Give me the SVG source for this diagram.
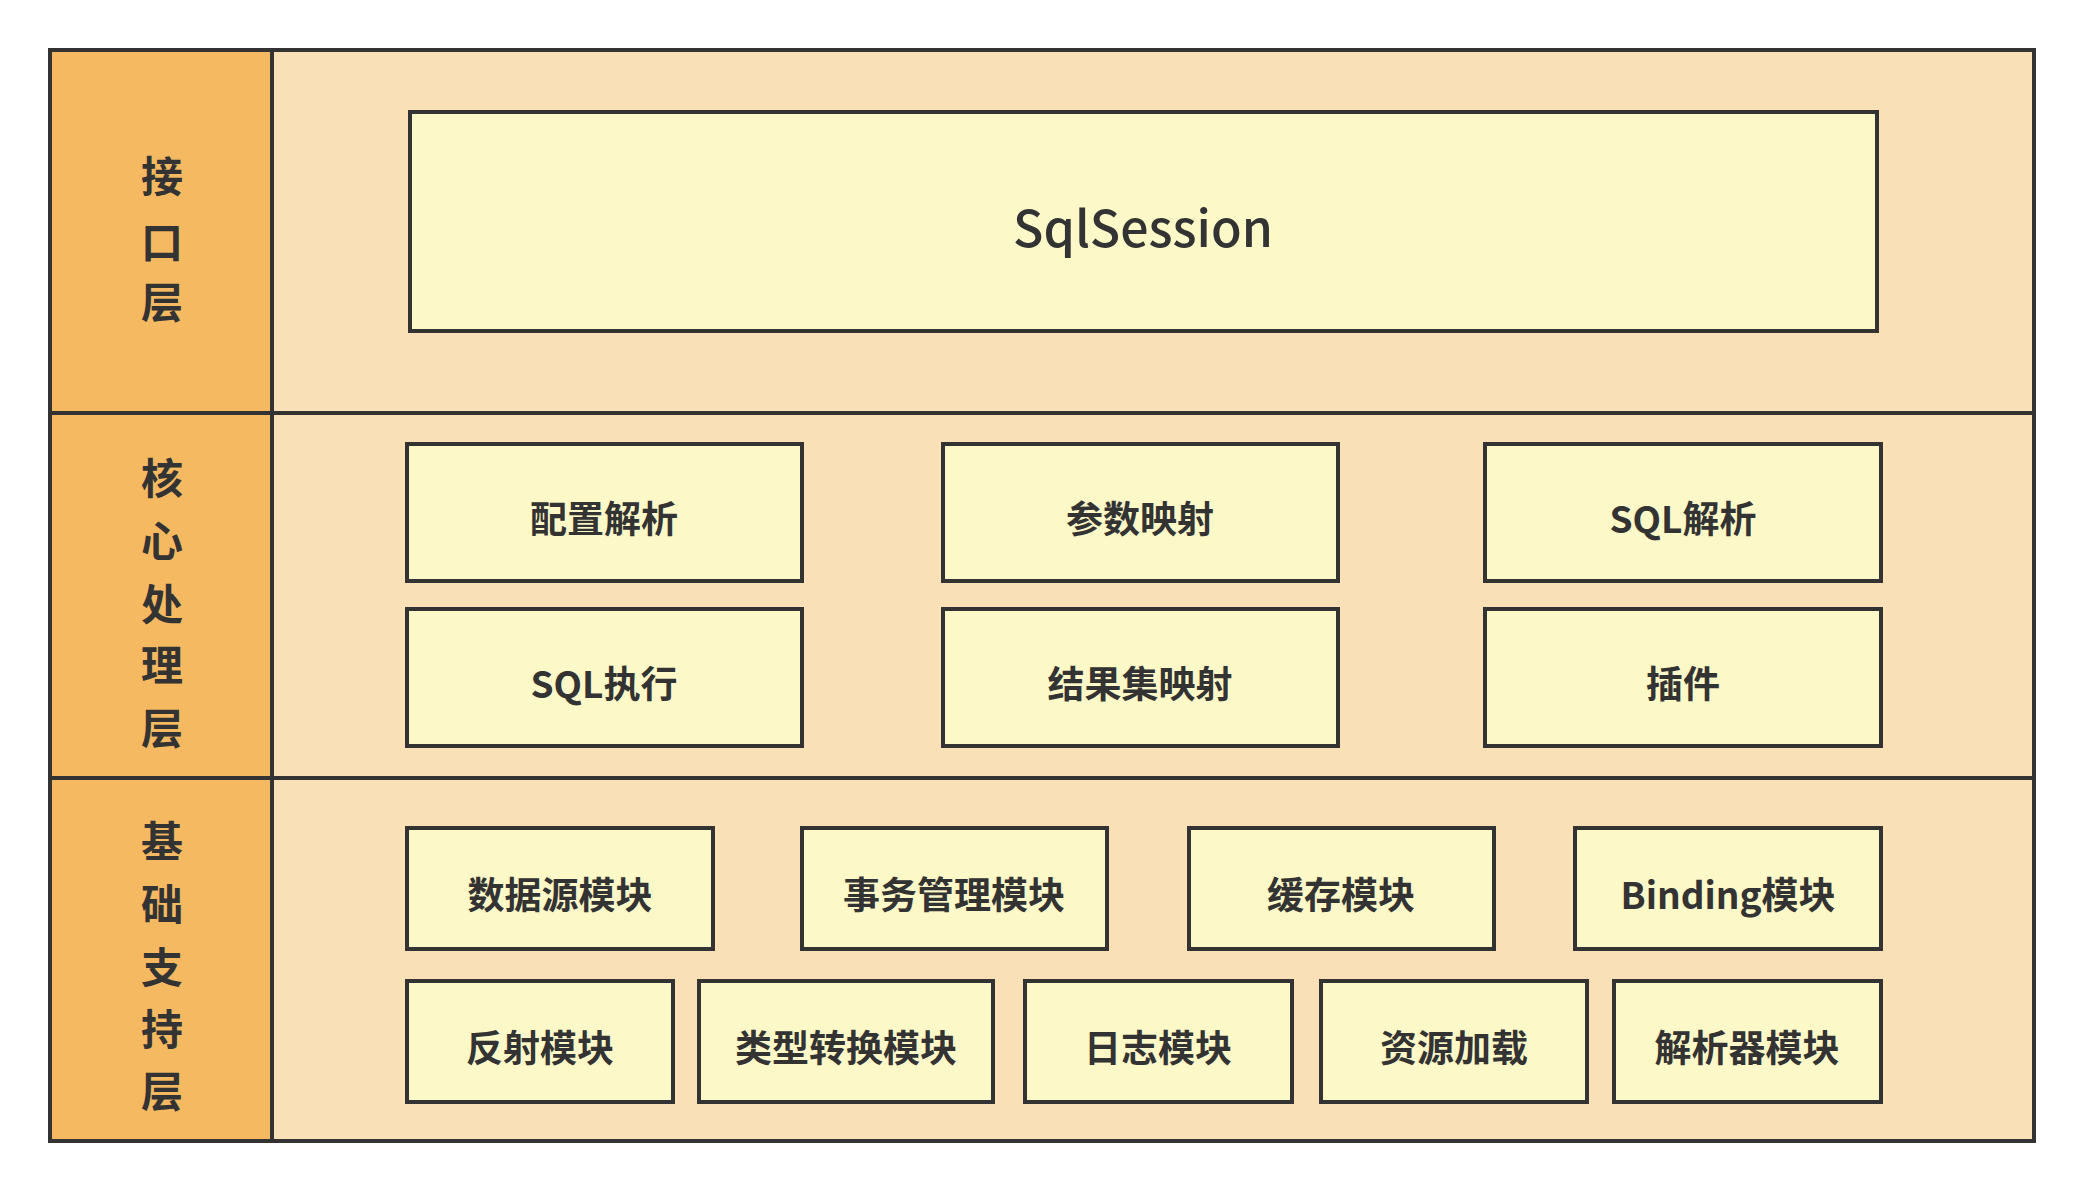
<svg xmlns="http://www.w3.org/2000/svg" width="2074" height="1186" viewBox="0 0 2074 1186">
<style>
.lane{fill:#F4B961;stroke:#333;stroke-width:4}
.body{fill:#F9E0B7;stroke:#333;stroke-width:4}
.box{fill:#FDF8C8;stroke:#333;stroke-width:4}
text{font-family:"Noto Sans CJK SC","Liberation Sans",sans-serif;fill:#333;font-weight:bold;text-anchor:middle;dominant-baseline:central}
.t{font-size:37px}
.l{font-size:42px}
</style>
<rect width="2074" height="1186" fill="#fff"/>
<g id="layer-interface">
<rect class="body" x="272" y="50" width="1762" height="363"/>
<rect class="lane" x="50" y="50" width="222" height="363"/>
<text class="l" x="162" y="173">接</text><text class="l" x="162" y="239">口</text><text class="l" x="162" y="299">层</text>
</g>
<g id="layer-core">
<rect class="body" x="272" y="413" width="1762" height="365"/>
<rect class="lane" x="50" y="413" width="222" height="365"/>
<text class="l" x="162" y="475">核</text><text class="l" x="162" y="538">心</text><text class="l" x="162" y="601">处</text><text class="l" x="162" y="662">理</text><text class="l" x="162" y="725">层</text>
</g>
<g id="layer-base">
<rect class="body" x="272" y="778" width="1762" height="363"/>
<rect class="lane" x="50" y="778" width="222" height="363"/>
<text class="l" x="162" y="838">基</text><text class="l" x="162" y="901">础</text><text class="l" x="162" y="964">支</text><text class="l" x="162" y="1026">持</text><text class="l" x="162" y="1088">层</text>
</g>
<g id="sqlsession"><rect class="box" x="410" y="112" width="1467" height="219"/><text x="1143" y="225" style="font-size:50px;font-weight:500">SqlSession</text></g>
<g id="n1"><rect class="box" x="407" y="444" width="395" height="137"/><text class="t" x="604" y="517">配置解析</text></g>
<g id="n2"><rect class="box" x="943" y="444" width="395" height="137"/><text class="t" x="1140" y="517">参数映射</text></g>
<g id="n3"><rect class="box" x="1485" y="444" width="396" height="137"/><text class="t" x="1683" y="517">SQL解析</text></g>
<g id="n4"><rect class="box" x="407" y="609" width="395" height="137"/><text class="t" x="604" y="682">SQL执行</text></g>
<g id="n5"><rect class="box" x="943" y="609" width="395" height="137"/><text class="t" x="1140" y="682">结果集映射</text></g>
<g id="n6"><rect class="box" x="1485" y="609" width="396" height="137"/><text class="t" x="1683" y="682">插件</text></g>
<g id="b1"><rect class="box" x="407" y="828" width="306" height="121"/><text class="t" x="560" y="893">数据源模块</text></g>
<g id="b2"><rect class="box" x="802" y="828" width="305" height="121"/><text class="t" x="954" y="893">事务管理模块</text></g>
<g id="b3"><rect class="box" x="1189" y="828" width="305" height="121"/><text class="t" x="1341" y="893">缓存模块</text></g>
<g id="b4"><rect class="box" x="1575" y="828" width="306" height="121"/><text class="t" x="1728" y="893">Binding模块</text></g>
<g id="b5"><rect class="box" x="407" y="981" width="266" height="121"/><text class="t" x="540" y="1046">反射模块</text></g>
<g id="b6"><rect class="box" x="699" y="981" width="294" height="121"/><text class="t" x="846" y="1046">类型转换模块</text></g>
<g id="b7"><rect class="box" x="1025" y="981" width="267" height="121"/><text class="t" x="1158" y="1046">日志模块</text></g>
<g id="b8"><rect class="box" x="1321" y="981" width="266" height="121"/><text class="t" x="1454" y="1046">资源加载</text></g>
<g id="b9"><rect class="box" x="1614" y="981" width="267" height="121"/><text class="t" x="1747" y="1046">解析器模块</text></g>
<g id="connectors"></g>
</svg>
